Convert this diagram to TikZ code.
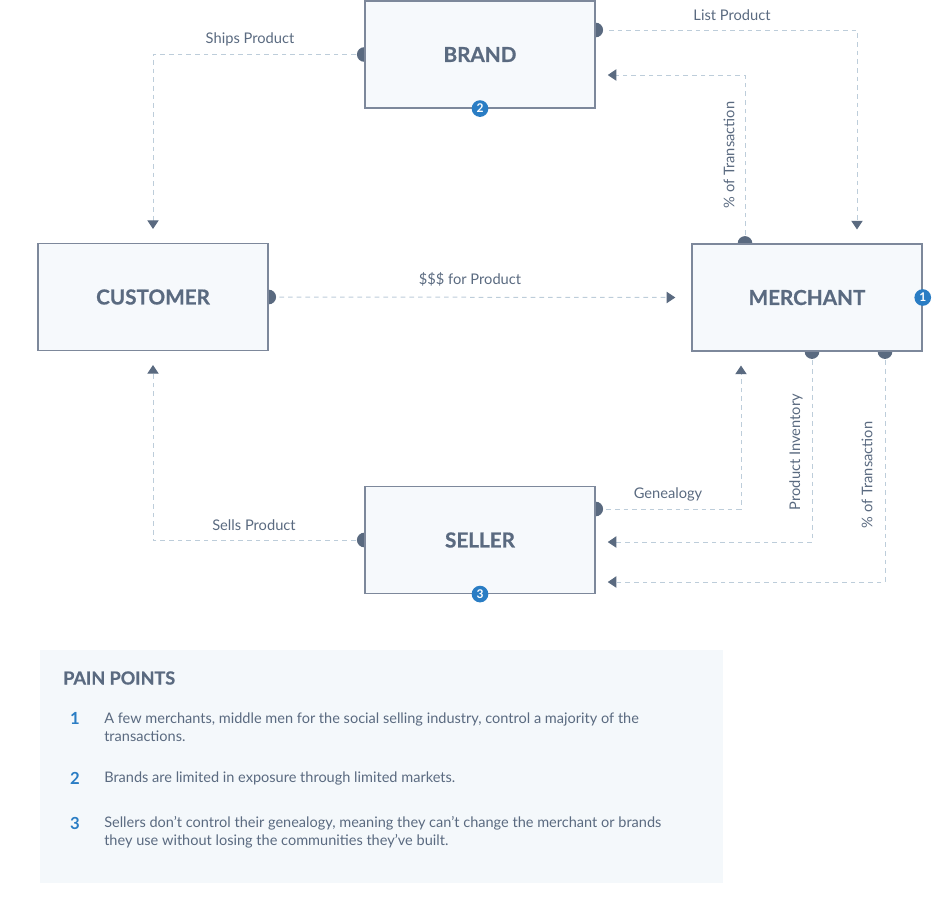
\documentclass[tikz,border=0pt]{standalone}
\usepackage{fontspec}
\setmainfont{Lato}
\newfontfamily\heavyfont{Lato}[BoldFeatures={FakeBold=0.6}]
\usetikzlibrary{arrows.meta,calc}
\definecolor{txt}{HTML}{5A6A80}
\definecolor{boxline}{HTML}{7D889B}
\definecolor{boxfill}{HTML}{F6F9FC}
\definecolor{dashc}{HTML}{BDCDDA}
\definecolor{badgec}{HTML}{2A7DC4}
\definecolor{painbg}{HTML}{F4F8FB}
\pgfdeclarelayer{bg}
\pgfsetlayers{bg,main}
\begin{document}
\begin{tikzpicture}[x=0.75pt,y=-0.75pt,
  box/.style={draw=boxline, line width=1.1pt, fill=boxfill, minimum width=172.5pt, minimum height=80pt, inner sep=0pt, font=\heavyfont\bfseries\fontsize{15.5}{18}\selectfont, text=txt},
  conn/.style={draw=dashc, line width=0.75pt, dash pattern=on 3.5pt off 3pt, -{Triangle[length=6.5pt,width=8.5pt,color=txt,fill=txt]}},
  lbl/.style={font=\fontsize{11}{12}\selectfont, text=txt, inner sep=0pt},
  badge/.style={circle, fill=badgec, text=white, font=\bfseries\fontsize{9}{9}\selectfont, minimum size=12.5pt, inner sep=0pt},
  dotmark/.style={fill=txt},
  num/.style={font=\bfseries\fontsize{12.5}{14}\selectfont, text=badgec, inner sep=0pt},
  ptxt/.style={font=\fontsize{10.9}{13.5}\selectfont, text=txt, inner sep=0pt, align=left, anchor=west}
]
\useasboundingbox (0,0) rectangle (952,921);

% boxes
\node[box] (brand) at (480,54.5) {BRAND};
\node[box] (customer) at (153,297) {CUSTOMER};
\node[box] (merchant) at (807,297.5) {MERCHANT};
\node[box] (seller) at (480,540) {SELLER};

% coordinates
\coordinate (shipsEnd) at ($(customer.north)+(0,-14)$);
\coordinate (lpS) at ($(brand.east)+(0,-24.5)$);
\coordinate (lpE) at ($(merchant.north)+(50,-14)$);
\coordinate (ptS) at ($(merchant.north)+(-62,0)$);
\coordinate (ptE) at ($(brand.east)+(12,20.5)$);
\coordinate (dE) at ($(merchant.west)+(-16,0)$);
\coordinate (slE) at ($(customer.south)+(0,14)$);
\coordinate (gS) at ($(seller.east)+(0,-31)$);
\coordinate (gE) at ($(merchant.south)+(-66,14)$);
\coordinate (piS) at ($(merchant.south)+(5,0)$);
\coordinate (piE) at ($(seller.east)+(12,2)$);
\coordinate (tS) at ($(merchant.south)+(78,0)$);
\coordinate (tE) at ($(seller.east)+(12,42)$);

\begin{pgfonlayer}{bg}
  \draw[conn] (brand.west) -| (shipsEnd);
  \draw[conn, shorten <=10pt] (lpS) -| (lpE);
  \draw[conn] (ptS) |- (ptE);
  \draw[conn, shorten <=8pt] (customer.east) -- (dE);
  \draw[conn] (seller.west) -| (slE);
  \draw[conn, shorten <=8pt] (gS) -| (gE);
  \draw[conn] (piS) |- (piE);
  \draw[conn] (tS) |- (tE);
  \foreach \p in {brand.west,lpS,ptS,customer.east,seller.west,gS,piS,tS}
    \fill[dotmark] (\p) circle [radius=5.5pt];
\end{pgfonlayer}

% labels
\node[lbl] (l1) at (250,39) {Ships Product};
\node[lbl] (l2) at (732,15) {List Product};
\node[lbl, rotate=90] (l3) at (729,155) {\% of Transaction};
\node[lbl] (l4) at (470,279) {\$\$\$ for Product};
\node[lbl] (l5) at (254,525) {Sells Product};
\node[lbl] (l6) at (668,494) {Genealogy};
\node[lbl, rotate=90] (l7) at (796,452) {Product Inventory};
\node[lbl, rotate=90] (l8) at (867,475) {\% of Transaction};

% badges
\node[badge] (b1) at (merchant.east) {1};
\node[badge] (b2) at (brand.south) {2};
\node[badge] (b3) at (seller.south) {3};

% pain points
\node[fill=painbg, anchor=north west, minimum width=512.25pt, minimum height=174.75pt, inner sep=0pt] (pain) at (40,650) {};
\node[anchor=west, inner sep=0pt, text=txt, font=\heavyfont\bfseries\fontsize{13.5}{15}\selectfont] (ptitle) at (63,678) {PAIN POINTS};
\node[num] (n1) at (75,718) {1};
\node[num] (n2) at (75,778) {2};
\node[num] (n3) at (75,823) {3};
\node[ptxt] (t1) at (104,727) {A few merchants, middle men for the social selling industry, control a majority of the\\transactions.};
\node[ptxt] (t2) at (104,778) {Brands are limited in exposure through limited markets.};
\node[ptxt] (t3) at (104,832) {Sellers don’t control their genealogy, meaning they can’t change the merchant or brands\\they use without losing the communities they’ve built.};
\end{tikzpicture}
\end{document}
